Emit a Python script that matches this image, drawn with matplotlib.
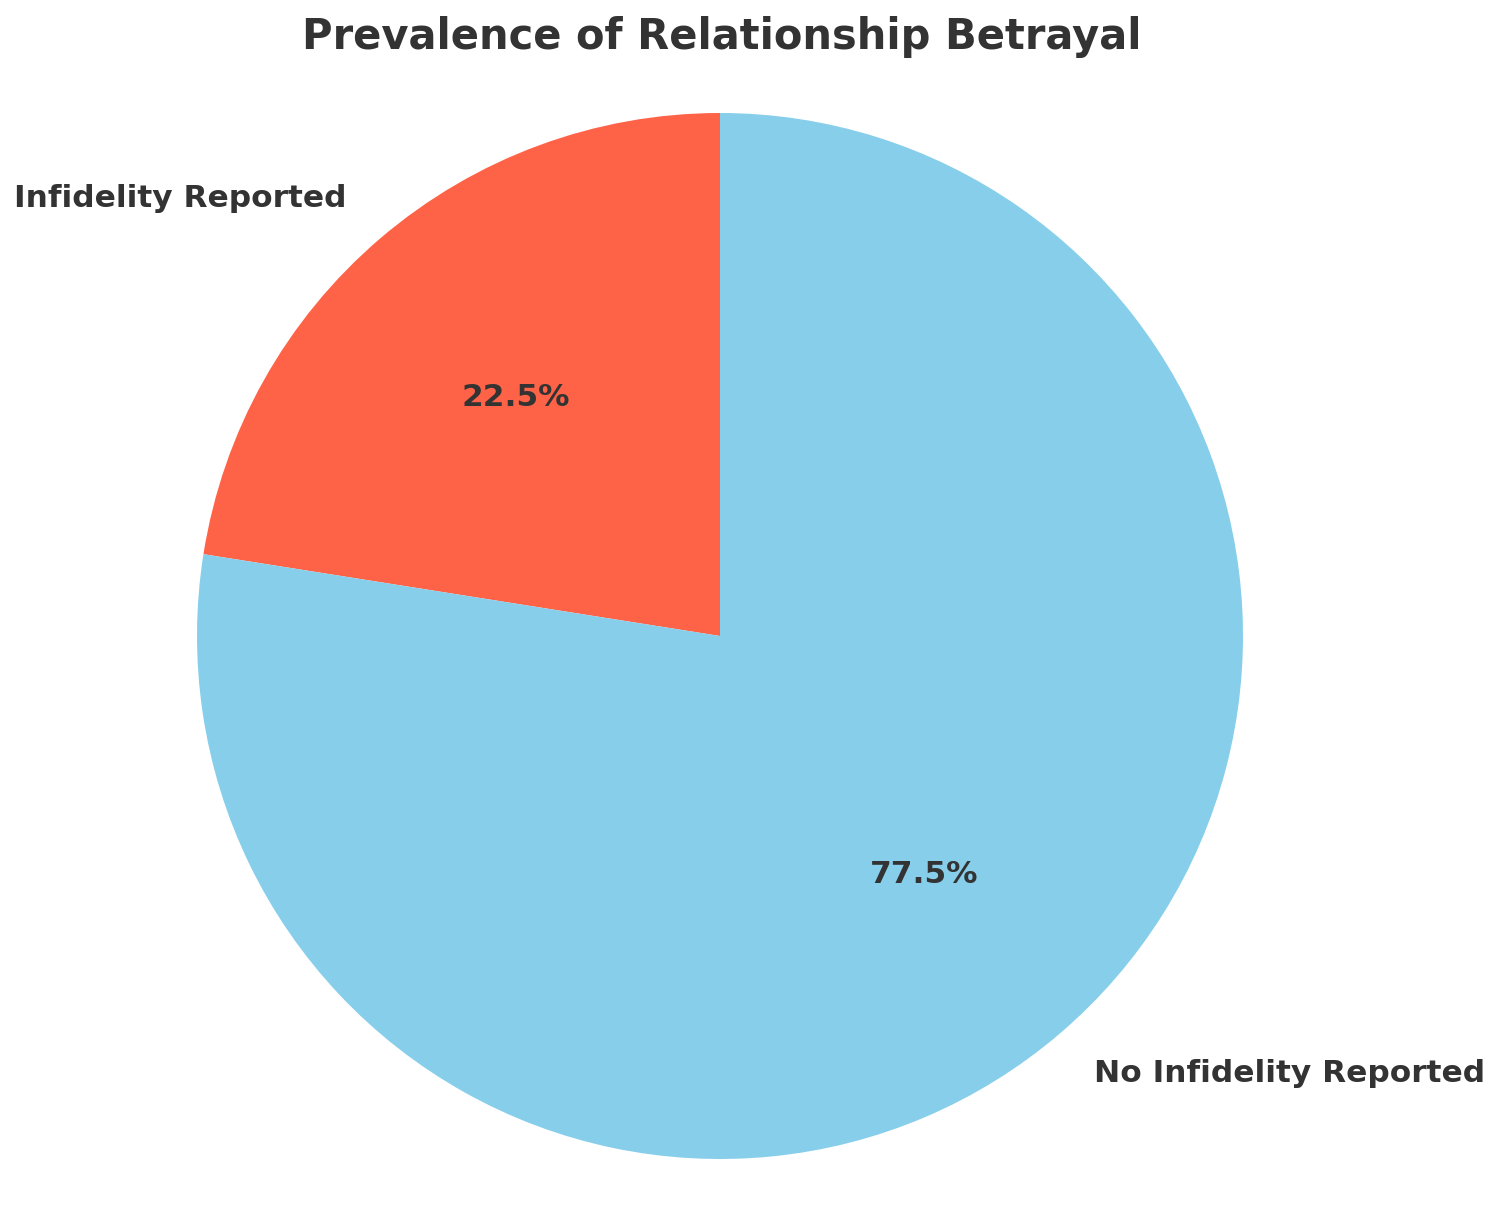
import matplotlib.pyplot as plt

labels = ['Infidelity Reported', 'No Infidelity Reported']
values = [22.5, 77.5]
colors = ['#FF6347', '#87CEEB']

W, H = 1500, 1226
cx, cy, r = 720, 636, 523  # pie centre and radius in pixels

fig = plt.figure(figsize=(W / 150, H / 150), dpi=150)
ax = fig.add_axes([0, 0, 1, 1])
wedges, texts, autotexts = ax.pie(values, labels=labels, colors=colors, autopct='%1.1f%%',
                                  startangle=90,
                                  textprops={'fontsize': 15, 'fontweight': 'bold', 'color': '#333333'})
ax.set_aspect('auto')
ax.set_xlim(-cx / r, (W - cx) / r)
ax.set_ylim(-(H - cy) / r, cy / r)
ax.axis('off')
fig.suptitle('Prevalence of Relationship Betrayal', fontsize=20, fontweight='bold', color='#333333',
             x=0.481, y=1 - 37 / H, va='center')
plt.savefig('out.png')
